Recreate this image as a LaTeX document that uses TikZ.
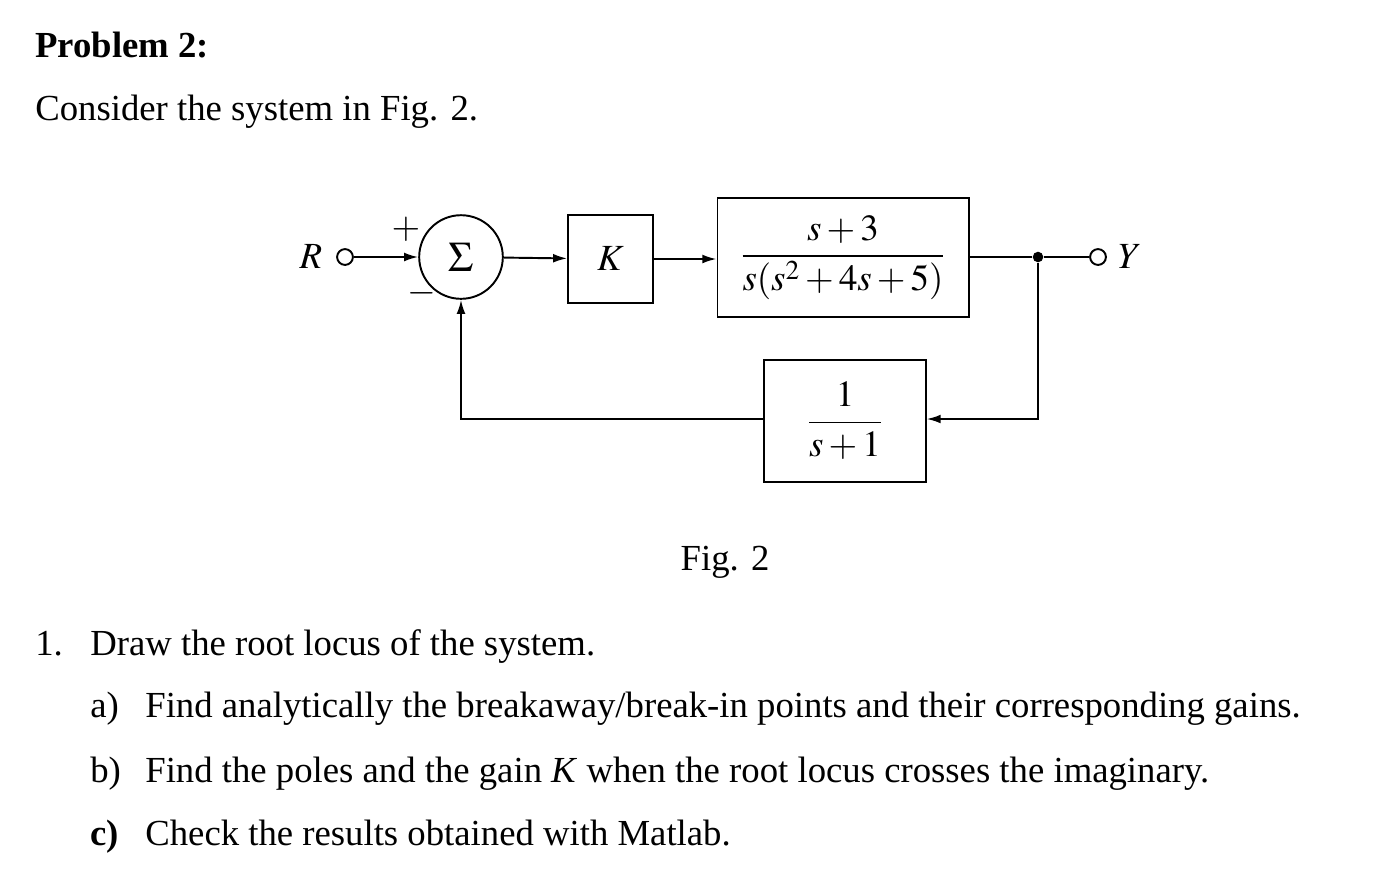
\documentclass[tikz,border=0pt]{standalone}
\usepackage{amsmath}
\usepackage{mathptmx}
\usepackage{fontspec}
\setmainfont{Liberation Serif}
\usetikzlibrary{arrows.meta}
\begin{document}
\begin{tikzpicture}[x=0.02cm,y=-0.02cm,
    txt/.style={anchor=base west,inner sep=0pt,font=\fontsize{20.9pt}{24pt}\selectfont},
    blk/.style={draw,line width=1.1pt,inner sep=0pt},
    lbl/.style={inner sep=0pt,font=\fontsize{21pt}{24pt}\selectfont},
    sig/.style={line width=1.1pt,-{Latex[length=8pt,width=5pt]}},
    wire/.style={line width=1.1pt},
    port/.style={circle,draw,line width=1.1pt,minimum size=9pt,inner sep=0pt}]
  \useasboundingbox (0,0) rectangle (1388,880);

  % Heading text
  \node[txt,font=\fontsize{20.9pt}{24pt}\selectfont\bfseries] (h1) at (35,57) {Problem 2:};
  \node[txt] (h2) at (35,120) {Consider the system in Fig. 2.};

  % Block diagram
  \node[lbl] (R) at (311,257) {$R$};
  \node[port] (rin) at (345,257) {};
  \node[blk,circle,minimum size=47.6pt] (sum) at (461,257) {\fontsize{24pt}{26pt}\selectfont$\Sigma$};
  \node[lbl] (plus) at (406,229) {$+$};
  \node[lbl] (minus) at (422,293) {$-$};
  \node[blk,minimum width=48.2pt,minimum height=49.9pt] (K) at (610.5,259) {\fontsize{21pt}{24pt}\selectfont$K$};
  \node[blk,minimum width=142.9pt,minimum height=67.5pt] (G) at (843,257.5)
    {\fontsize{21pt}{24pt}\selectfont$\dfrac{s+3}{s(s^2+4s+5)}$};
  \node[blk,minimum width=91.8pt,minimum height=69.2pt] (H) at (845,421)
    {\fontsize{21pt}{24pt}\selectfont$\dfrac{1}{s+1}$};
  \node[circle,fill,inner sep=0pt,minimum size=6pt] (dot) at (1038,257) {};
  \node[port] (yout) at (1098,257) {};
  \node[lbl] (Y) at (1130,257) {$Y$};
  \coordinate (c1) at (1038,419);
  \coordinate (c2) at (461,419);

  \draw[sig] (rin) -- (sum);
  \draw[sig] (sum) -- (K);
  \draw[sig] (K.east) -- (G.west |- K.east);
  \draw[wire] (G.east |- dot) -- (dot) -- (yout);
  \draw[sig] (dot) -- (c1) -- (H.east |- c1);
  \draw[sig] (H.west |- c2) -- (c2) -- (sum);

  \node[txt,anchor=base] (fig) at (725,570) {Fig. 2};

  % Questions
  \node[txt] (q1n) at (35,655) {1.};
  \node[txt] (q1) at (90,655) {Draw the root locus of the system.};
  \node[txt] (qan) at (90,717) {a)};
  \node[txt] (qa) at (145,717) {Find analytically the breakaway/break-in points and their corresponding gains.};
  \node[txt] (qbn) at (90,782) {b)};
  \node[txt] (qb) at (145,782) {Find the poles and the gain \textit{K} when the root locus crosses the imaginary.};
  \node[txt,font=\fontsize{20.9pt}{24pt}\selectfont\bfseries] (qcn) at (90,845) {c)};
  \node[txt] (qc) at (145,845) {Check the results obtained with Matlab.};
\end{tikzpicture}
\end{document}
